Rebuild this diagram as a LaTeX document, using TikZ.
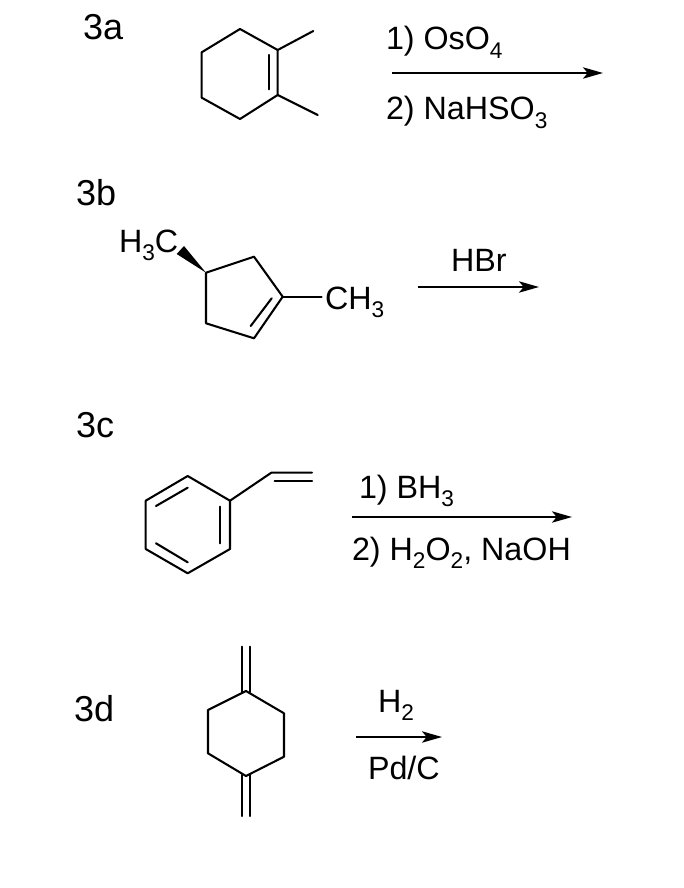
\documentclass[tikz,border=0pt]{standalone}
\usepackage{fontspec}
\setmainfont{Liberation Sans}
\usetikzlibrary{arrows.meta}
\newcommand{\chemsub}[1]{\raisebox{-0.27em}{\fontsize{17pt}{18pt}\selectfont #1}}
\tikzset{
  bond/.style={line width=1.55pt,line cap=round,line join=round,black},
  rxn/.style={line width=1.55pt,black,-{Stealth[length=15pt,width=8.5pt,inset=3.5pt]}},
  lab/.style={anchor=base west,inner sep=0pt,outer sep=0pt,font=\fontsize{27pt}{30pt}\selectfont},
  txt/.style={anchor=base west,inner sep=0pt,outer sep=0pt,font=\fontsize{24.2pt}{28pt}\selectfont},
}
\begin{document}
\begin{tikzpicture}[x=0.75pt,y=-0.75pt]
\useasboundingbox (0,0) rectangle (684,888);
\fill[white] (0,0) rectangle (684,888);
% labels
\node[lab] (la) at (83,40) {3a};
\node[lab] (lb) at (76,205) {3b};
\node[lab] (lc) at (76,437) {3c};
\node[lab] (ld) at (74,721) {3d};
% 3a
\coordinate (a1) at (240,29);
\coordinate (a2) at (277.7,50);
\coordinate (a3) at (277.7,95);
\coordinate (a4) at (240,119);
\coordinate (a5) at (201.7,97.7);
\coordinate (a6) at (201.7,52.3);
\coordinate (am1) at (313.3,31);
\coordinate (am2) at (317.7,115);
\coordinate (ad1) at (269,55);
\coordinate (ad2) at (269,89.3);
\draw[bond] (a1) -- (a2) -- (a3) -- (a4) -- (a5) -- (a6) -- cycle;
\draw[bond] (a2) -- (am1);
\draw[bond] (a3) -- (am2);
\draw[bond] (ad1) -- (ad2);
\coordinate (ra1) at (392,73);
\coordinate (ra2) at (603,73);
\draw[rxn] (ra1) -- (ra2);
\node[txt] (ta1) at (386,50) {1) OsO\chemsub{4}};
\node[txt] (ta2) at (386,120) {2) NaHSO\chemsub{3}};
% 3b
\coordinate (b1) at (206,272.7);
\coordinate (b2) at (254,256.7);
\coordinate (b3) at (282.7,296.7);
\coordinate (b4) at (254,338.3);
\coordinate (b5) at (206,323.3);
\coordinate (bw1) at (176.7,254);
\coordinate (bw2) at (184,246);
\coordinate (bm) at (321.7,296.7);
\coordinate (bd1) at (271.7,298.3);
\coordinate (bd2) at (250.7,326);
\fill[black] (b1) -- (bw1) -- (bw2) -- cycle;
\draw[bond] (b1) -- (b2) -- (b3) -- (b4) -- (b5) -- cycle;
\draw[bond] (b3) -- (bm);
\draw[bond] (bd1) -- (bd2);
\node[txt] (tb1) at (119,252) {H\chemsub{3}C};
\node[txt] (tb2) at (325,309) {CH\chemsub{3}};
\coordinate (rb1) at (418,287);
\coordinate (rb2) at (539,287);
\draw[rxn] (rb1) -- (rb2);
\node[txt] (tb3) at (451,271) {HBr};
% 3c
\coordinate (c1) at (187.7,476);
\coordinate (c2) at (230,500.7);
\coordinate (c3) at (230,549);
\coordinate (c4) at (187.7,573.3);
\coordinate (c5) at (145.7,549);
\coordinate (c6) at (145.7,500.7);
\coordinate (cv1) at (271.3,472.7);
\coordinate (cv2) at (312,472.7);
\coordinate (cv3) at (274.7,480.7);
\coordinate (cv4) at (312,480.7);
\coordinate (ci1) at (187.7,487.7);
\coordinate (ci2) at (156,506);
\coordinate (ci3) at (220,506.7);
\coordinate (ci4) at (220,543.3);
\coordinate (ci5) at (156,543.3);
\coordinate (ci6) at (187.7,562.3);
\draw[bond] (c1) -- (c2) -- (c3) -- (c4) -- (c5) -- (c6) -- cycle;
\draw[bond] (c2) -- (cv1) -- (cv2);
\draw[bond] (cv3) -- (cv4);
\draw[bond] (ci1) -- (ci2);
\draw[bond] (ci3) -- (ci4);
\draw[bond] (ci5) -- (ci6);
\coordinate (rc1) at (352,517);
\coordinate (rc2) at (572,517);
\draw[rxn] (rc1) -- (rc2);
\node[txt] (tc1) at (359,498) {1) BH\chemsub{3}};
\node[txt] (tc2) at (352,560) {2) H\chemsub{2}O\chemsub{2}, NaOH};
% 3d
\coordinate (d1) at (246,691);
\coordinate (d2) at (284,713.3);
\coordinate (d3) at (284,756.7);
\coordinate (d4) at (246,776);
\coordinate (d5) at (208,753.3);
\coordinate (d6) at (208,710);
\coordinate (dt1) at (241.7,646.7);
\coordinate (dt2) at (241.7,692);
\coordinate (dt3) at (250.3,646.7);
\coordinate (dt4) at (250.3,692);
\coordinate (db1) at (241.7,775);
\coordinate (db2) at (241.7,816);
\coordinate (db3) at (250.3,775);
\coordinate (db4) at (250.3,816);
\draw[bond] (d1) -- (d2) -- (d3) -- (d4) -- (d5) -- (d6) -- cycle;
\draw[bond] (dt1) -- (dt2);
\draw[bond] (dt3) -- (dt4);
\draw[bond] (db1) -- (db2);
\draw[bond] (db3) -- (db4);
\coordinate (rd1) at (356,737);
\coordinate (rd2) at (442,737);
\draw[rxn] (rd1) -- (rd2);
\node[txt] (td1) at (378,712) {H\chemsub{2}};
\node[txt] (td2) at (368,779) {Pd/C};
\end{tikzpicture}
\end{document}
